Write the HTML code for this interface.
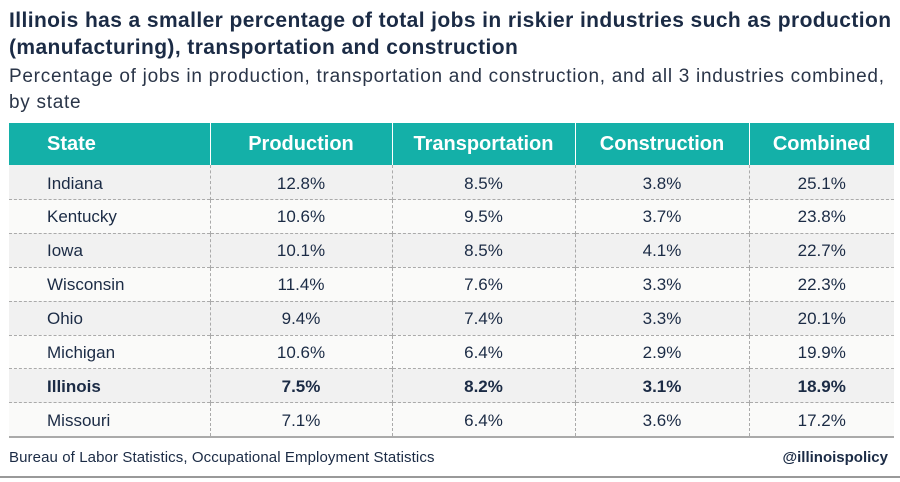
<!DOCTYPE html>
<html><head><meta charset="utf-8"><style>
body{margin:0;width:900px;height:482px;background:#fff;font-family:"Liberation Sans",sans-serif;color:#1b2b45;position:relative;overflow:hidden}
.t{position:absolute;left:9px;top:7px;font-size:21px;font-weight:bold;line-height:27px;letter-spacing:0.4px;white-space:nowrap}
.s{position:absolute;left:9px;top:64px;font-size:19px;line-height:26px;color:#2a3548;letter-spacing:0.72px;white-space:nowrap}
table{position:absolute;left:9px;top:123px;width:885px;border-collapse:collapse;font-size:17px}
th{background:#14b0a8;color:#fff;font-size:20px;height:42px;padding:0;border-left:1px solid #fff;text-align:center}
th:first-child{border-left:none;text-align:left;padding-left:38px}
td{height:30.9px;padding:2px 0 0 0;text-align:center;border-left:1px dashed #aaa;border-top:1px dashed #aaa}
td:first-child{border-left:none;text-align:left;padding-left:38px}
tr:nth-child(odd) td{background:#f1f1f1}
tr:nth-child(even) td{background:#fafaf9}
tr.b td{font-weight:bold}
tbody tr:first-child td{border-top:none;height:31px;padding-top:3px}
tbody tr:last-child td{border-bottom:2px solid #aaa;height:31px}
.f{position:absolute;top:449px;left:9px;font-size:15px;letter-spacing:0.1px}
.h{position:absolute;top:449px;right:12px;font-size:15px;font-weight:bold}
.bl{position:absolute;left:0;right:0;top:476px;height:2px;background:#999}
</style></head><body>
<div class="t">Illinois has a smaller percentage of total jobs in riskier industries such as production<br>(manufacturing), transportation and construction</div>
<div class="s">Percentage of jobs in production, transportation and construction, and all 3 industries combined,<br>by state</div>
<table>
<colgroup><col style="width:201px"><col style="width:182px"><col style="width:183px"><col style="width:174px"><col style="width:145px"></colgroup>
<thead><tr><th>State</th><th>Production</th><th>Transportation</th><th>Construction</th><th>Combined</th></tr></thead>
<tbody>
<tr><td>Indiana</td><td>12.8%</td><td>8.5%</td><td>3.8%</td><td>25.1%</td></tr>
<tr><td>Kentucky</td><td>10.6%</td><td>9.5%</td><td>3.7%</td><td>23.8%</td></tr>
<tr><td>Iowa</td><td>10.1%</td><td>8.5%</td><td>4.1%</td><td>22.7%</td></tr>
<tr><td>Wisconsin</td><td>11.4%</td><td>7.6%</td><td>3.3%</td><td>22.3%</td></tr>
<tr><td>Ohio</td><td>9.4%</td><td>7.4%</td><td>3.3%</td><td>20.1%</td></tr>
<tr><td>Michigan</td><td>10.6%</td><td>6.4%</td><td>2.9%</td><td>19.9%</td></tr>
<tr class="b"><td>Illinois</td><td>7.5%</td><td>8.2%</td><td>3.1%</td><td>18.9%</td></tr>
<tr><td>Missouri</td><td>7.1%</td><td>6.4%</td><td>3.6%</td><td>17.2%</td></tr>
</tbody></table>
<div class="f">Bureau of Labor Statistics, Occupational Employment Statistics</div>
<div class="h">@illinoispolicy</div>
<div class="bl"></div>
</body></html>
